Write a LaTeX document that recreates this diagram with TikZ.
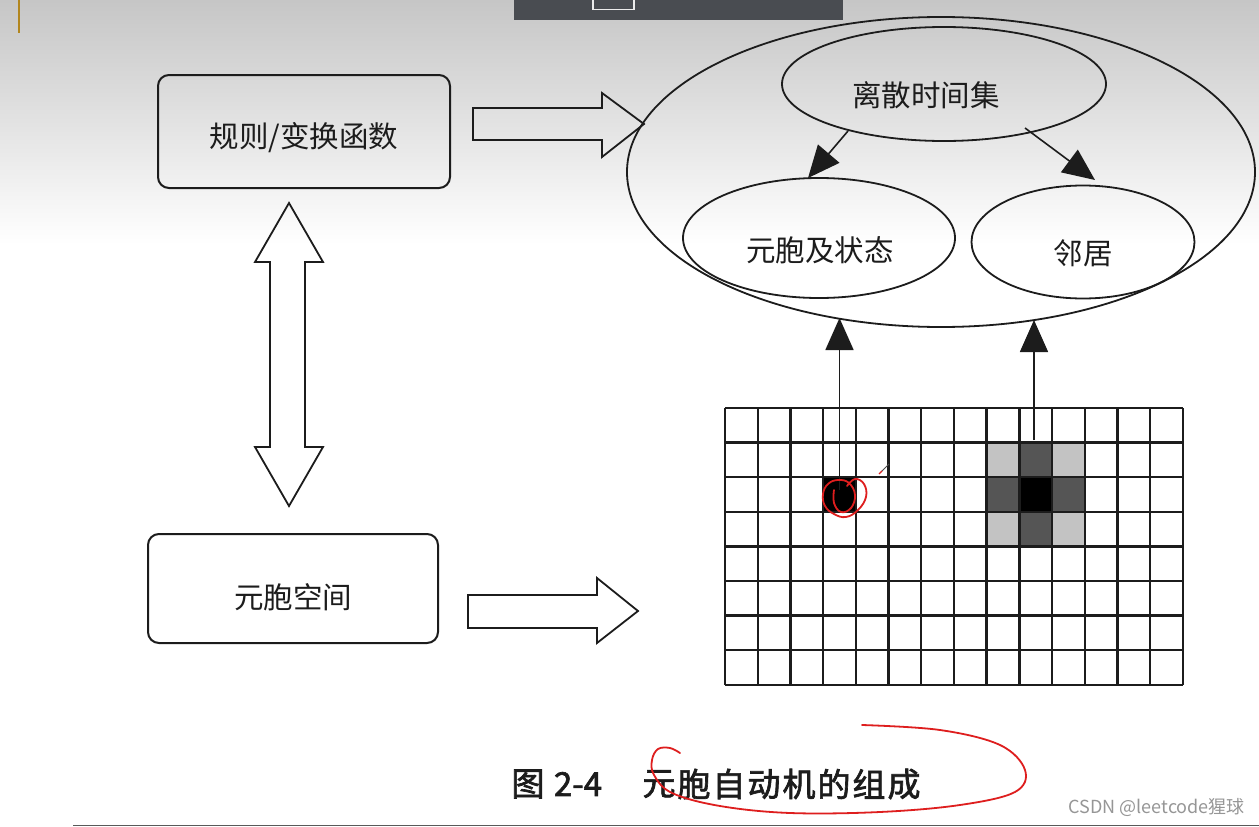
\documentclass[tikz,border=0pt]{standalone}
\usepackage{fontspec}
\setmainfont{Noto Sans CJK SC}
\newfontfamily\capfont[FakeBold=2]{Noto Sans CJK SC}
\usetikzlibrary{shapes.geometric,arrows.meta}
\definecolor{ink}{RGB}{28,28,28}
\definecolor{bgtop}{RGB}{198,198,198}
\definecolor{barc}{RGB}{73,76,81}
\definecolor{goldc}{RGB}{178,134,30}
\definecolor{redc}{RGB}{222,30,30}
\definecolor{darkcell}{RGB}{85,85,85}
\definecolor{lightcell}{RGB}{195,195,195}
\definecolor{wmark}{RGB}{150,150,150}
\tikzset{
  bx/.style={draw=ink, line width=2pt, rounded corners=11pt, inner sep=0pt},
  ell/.style={draw=ink, ellipse, line width=1.8pt, inner sep=0pt},
  lbl/.style={font=\fontsize{29.5}{29.5}\selectfont, text=ink, inner sep=0pt},
  captxt/.style={font=\capfont\fontsize{33}{33}\selectfont, text=ink, inner sep=0pt},
  hol/.style={draw=ink, line width=1.8pt, line join=miter},
  tri/.style={draw=ink, -{Triangle[length=32pt,width=28pt]}, line width=1.6pt},
  gl/.style={draw=ink, line width=2.4pt},
  cellbox/.style={minimum width=32.7pt, minimum height=34.6pt, inner sep=0pt, draw=none},
  redmark/.style={draw=redc, line width=1.8pt, line cap=round, line join=round},
}
\begin{document}
\begin{tikzpicture}[x=1pt,y=-1pt]
\useasboundingbox (0,0) rectangle (1259,827);
% background
\fill[white] (0,0) rectangle (1259,827);
\shade[top color=bgtop, bottom color=white] (0,0) rectangle (1259,245);
\fill[barc] (514,0) rectangle (843,20);
\draw[white!85!gray, line width=1.2pt] (593,0) -- (593,9.5) -- (634,9.5) -- (634,0);
\fill[goldc] (17.5,0) rectangle (20,33);
\draw[gray!70!black, line width=1.6pt] (73,825.5) -- (1259,825.5);

% left boxes
\node[bx, minimum width=292pt, minimum height=113pt] (rule) at (304,131.5) {};
\node[lbl] (ruletxt) at (304,138) {规则/变换函数};
\node[bx, minimum width=290pt, minimum height=109pt] (space) at (293,588.5) {};
\node[lbl] (spacetxt) at (293,597) {元胞空间};

% hollow arrows
\draw[hol] (473,108) -- (602,108) -- (602,93) -- (644,124) -- (602,157) -- (602,140) -- (473,140) -- cycle;
\draw[hol] (468,595) -- (597,595) -- (597,578) -- (638,611) -- (597,643) -- (597,628) -- (468,628) -- cycle;
\draw[hol] (289,203) -- (323,262) -- (305,262) -- (305,447) -- (323,447) -- (289,506) -- (255,447) -- (270,447) -- (270,262) -- (255,262) -- cycle;

% ellipses
\node[ell, minimum width=628pt, minimum height=310pt] (outer) at (941,172) {};
\node[ell, minimum width=324pt, minimum height=114pt] (tset) at (944,84) {};
\node[lbl] (tsettxt) at (926,95) {离散时间集};
\node[ell, minimum width=272pt, minimum height=120pt] (cellst) at (819,238) {};
\node[lbl] (cellsttxt) at (820,250) {元胞及状态};
\node[ell, minimum width=223pt, minimum height=113pt] (nbr) at (1083,242) {};
\node[lbl] (nbrtxt) at (1083,253) {邻居};

% arrows inside the outer ellipse
\coordinate (tsL) at (848,131);
\coordinate (csT) at (808,178);
\coordinate (tsR) at (1025,128);
\coordinate (nbT) at (1095,180);
\draw[tri] (tsL) -- (csT);
\draw[tri] (tsR) -- (nbT);

% grid cells
\node[cellbox, fill=black] (cellA) at (839.5,494.5) {};
\node[cellbox, fill=black] (cellB) at (1035.7,494.5) {};
\node[cellbox, fill=darkcell] (cellBn) at (1035.7,459.9) {};
\node[cellbox, fill=darkcell] (cellBs) at (1035.7,529.1) {};
\node[cellbox, fill=darkcell] (cellBw) at (1003,494.5) {};
\node[cellbox, fill=darkcell] (cellBe) at (1068.4,494.5) {};
\node[cellbox, fill=lightcell] (cellBnw) at (1003,459.9) {};
\node[cellbox, fill=lightcell] (cellBne) at (1068.4,459.9) {};
\node[cellbox, fill=lightcell] (cellBsw) at (1003,529.1) {};
\node[cellbox, fill=lightcell] (cellBse) at (1068.4,529.1) {};
% grid lines
\foreach \i in {0,...,14} {
  \draw[gl] ({725+32.7*\i},408) -- ({725+32.7*\i},685);
}
\foreach \j in {0,...,8} {
  \draw[gl] (725,{408+34.6*\j}) -- (1182.8,{408+34.6*\j});
}

% vertical arrows from the grid
\coordinate (gA) at (839.5,490);
\coordinate (gB) at (1034,440);
\coordinate (oA) at (839.5,318);
\coordinate (oB) at (1034,320);
\draw[tri] (gA) -- (oA);
\draw[tri] (gB) -- (oB);

% caption
\node[captxt] (c0) at (528,784) {图};
\node[captxt] (c1) at (578,784) {2-4};
\foreach \ch [count=\k from 0] in {元,胞,自,动,机,的,组,成} {
  \node[captxt] (cc\k) at ({659+35*\k},784) {\ch};
}
\node[anchor=east, inner sep=0pt, text=wmark, font=\fontsize{18}{18}\selectfont] (wm) at (1245,807) {CSDN @leetcode猩球};

% red hand marks
\draw[redmark] plot[smooth, tension=0.7] coordinates {(847,486) (855,479) (864,484) (866,497) (858,510) (846,517) (834,514) (825,506) (823,494) (828,484) (838,480) (849,483) (855,495) (851,508) (841,512) (834,503) (834,490)};
\draw[redmark] plot[smooth, tension=0.6] coordinates {(862,725) (940,730) (1000,745) (1025,770) (1015,792) (960,805) (880,812) (790,813) (720,806) (672,793) (654,775) (652,760) (658,749) (670,748) (680,753)};
% cursor
\draw[gray!60!black, line width=1pt] (881,472) -- (889,464);
\draw[redc, line width=1.2pt] (879,474) -- (882,471);
\end{tikzpicture}
\end{document}
